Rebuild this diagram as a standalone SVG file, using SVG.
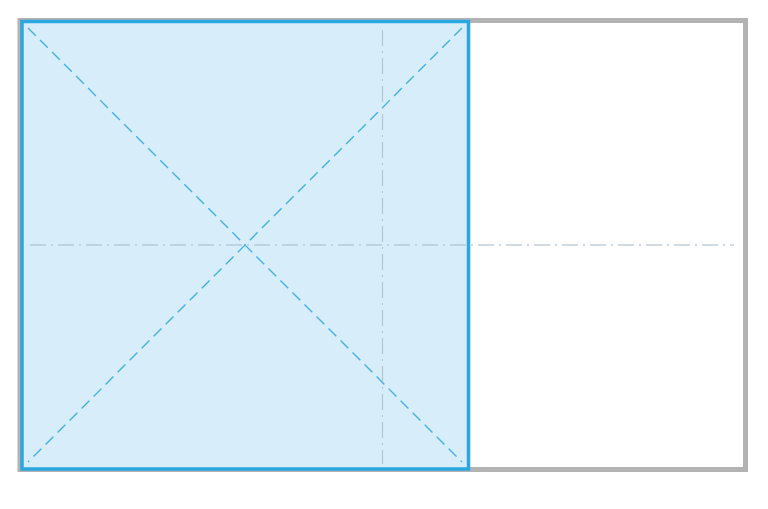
<svg xmlns="http://www.w3.org/2000/svg" width="768" height="509" viewBox="0 0 768 509">
<style>
.frame{fill:#ffffff;stroke:#b3b3b3;stroke-width:5}
.square{fill:#d7eefa;stroke:#2aa7df;stroke-width:3.5}
.diag{stroke:#42b1e3;stroke-width:1.4;stroke-dasharray:11 6;fill:none}
.axis{stroke:#a6b8c4;stroke-width:1.2;stroke-dasharray:16 5 2 5;fill:none}
</style>
<rect width="768" height="509" fill="#ffffff"/>
<g id="frame"><rect class="frame" x="20" y="20.5" width="725.5" height="449"/></g>
<g id="square"><rect class="square" x="22" y="21.5" width="446.5" height="447.5"/></g>
<g id="connectors">
<line class="diag" x1="28" y1="28" x2="462" y2="462"/>
<line class="diag" x1="462" y1="28" x2="28" y2="462"/>
<line class="axis" x1="30" y1="245" x2="734" y2="245"/>
<line class="axis" x1="382.5" y1="30" x2="382.5" y2="464" stroke-opacity="0.75"/>
</g>
</svg>
